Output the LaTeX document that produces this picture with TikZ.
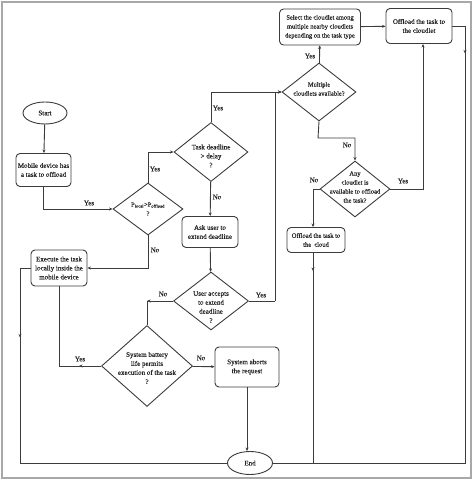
\documentclass[tikz,border=0pt]{standalone}
\usepackage{fontspec}
\setmainfont{Liberation Serif}[FakeBold=0.6]
\usetikzlibrary{shapes.geometric,arrows.meta,decorations.markings}
\definecolor{ln}{HTML}{3C3C3C}
\definecolor{tx}{HTML}{262626}
\definecolor{fr}{HTML}{A8A8A8}
\begin{document}
\begin{tikzpicture}[x=1pt,y=-1pt,
 font=\fontsize{7}{9}\selectfont,
 line/.style={draw=ln, line width=0.9pt},
 arr/.style={line,-{Stealth[length=3.5pt,width=3pt]}},
 box/.style={draw=ln, line width=0.9pt, rounded corners=4pt, align=center, inner sep=1pt, text=tx},
 term/.style={draw=ln, line width=0.9pt, ellipse, inner sep=0pt, text=tx},
 dia/.style={draw=ln, line width=0.9pt, diamond, inner sep=0pt},
 txt/.style={align=center, inner sep=0pt, text=tx},
 lab/.style={inner sep=0pt, text=tx},
 midarr/.style={postaction={decorate}, decoration={markings, mark=at position #1 with {\arrow{Stealth[length=3.5pt,width=3pt]}}}}
]
\useasboundingbox (0,0) rectangle (474,481);
\draw[fr, line width=1.6pt] (2,2) rectangle (471,478);

% nodes
\node[term, minimum width=44pt, minimum height=22pt] (start) at (45,113) {Start};
\node[box, minimum width=55pt, minimum height=33pt] (mobile) at (43.5,170) {Mobile device has\\a task to offload};
\node[dia, minimum width=70pt, minimum height=52pt,
  label={[txt,font=\fontsize{6.5}{9}\selectfont]center:{P\textsubscript{local}>P\textsubscript{offload}\\?}}] (p) at (148,209) {};
\node[dia, minimum width=74pt, minimum height=59pt,
  label={[txt,yshift=-4pt]center:{Task deadline\\> delay\\?}}] (task) at (211,152) {};
\node[box, minimum width=56pt, minimum height=31pt] (ask) at (210,232) {Ask user to\\extend deadline};
\node[dia, minimum width=75pt, minimum height=58pt,
  label={[txt,yshift=-6pt]center:{User accepts\\to extend\\deadline\\?}}] (user) at (211,301) {};
\node[dia, minimum width=91pt, minimum height=81pt,
  label={[txt,yshift=-2pt]center:{System battery\\life permits\\execution of the task\\?}}] (battery) at (147,366) {};
\node[box, minimum width=56pt, minimum height=36pt] (execute) at (59,268) {Execute the task\\locally inside the\\mobile device};
\node[box, minimum width=64pt, minimum height=40pt] (aborts) at (247,367) {System aborts\\the request};
\node[term, minimum width=45pt, minimum height=23pt] (endn) at (250,463) {End};
\node[dia, minimum width=74pt, minimum height=58pt,
  label={[txt,yshift=3pt,font=\fontsize{6.5}{9}\selectfont]center:{Multiple\\cloudlets available?}}] (multi) at (319,92) {};
\node[box, minimum width=81pt, minimum height=36pt, font=\fontsize{6.5}{9}\selectfont] (select) at (320,27) {Select the cloudlet among\\multiple nearby cloudlets\\depending on the task type};
\node[box, minimum width=66pt, minimum height=35pt] (offcl) at (419,26) {Offload the task to\\the cloudlet};
\node[dia, minimum width=70pt, minimum height=56pt,
  label={[txt,yshift=2pt,font=\fontsize{6.5}{9}\selectfont]center:{Any\\cloudlet is\\available to offload\\the task?}}] (any) at (355,189) {};
\node[box, minimum width=58pt, minimum height=25pt, font=\fontsize{6.5}{9}\selectfont] (cloud) at (316,240) {Offload the task to\\the\ \ cloud};

% junction coordinates
\coordinate (j1) at (275,301);
\coordinate (c1) at (147,301);
\coordinate (lb) at (20,463);
\coordinate (rb) at (465,463);
\coordinate (cb) at (313,463);

% connectors
\draw[arr] (start) -- (mobile);
\draw[arr] (mobile.south) |- (p.west);
\draw[arr] (p.north) |- (task.west);
\draw[arr] (task.north) |- (multi.west);
\draw[arr] (task) -- (ask);
\draw[arr] (ask) -- (user);
\draw[line] (user.east) -- (j1);
\draw[arr] (j1) |- (multi.west);
\draw[arr] (user.west) -- (c1);
\draw[line] (c1) -- (battery.north);
\draw[arr] (p.south) |- (execute.east);
\draw[line, midarr=22pt] (battery.west) -| (execute.south);
\draw[arr] (battery) -- (aborts);
\draw[arr] (aborts.south) -- (aborts.south |- endn.north);
\draw[line, midarr=80pt] (execute.west) -| (lb) -- (endn.west);
\draw[line, midarr=40pt] (offcl.east) -| (rb) -- (endn.east);
\draw[line, midarr=18pt] ([xshift=-3pt]cloud.south) -- (cb);
\draw[arr] (multi) -- (select);
\draw[arr] (select) -- (offcl);
\draw[arr] (multi.south) -- (318,138) -| (any.north);
\draw[arr] (any.east) -| ([xshift=4pt]offcl.south);
\draw[arr] (any.west) -| ([xshift=-3pt]cloud.north);

% labels
\node[lab] (l1) at (89,203) {Yes};
\node[lab] (l2) at (155,169) {Yes};
\node[lab] (l3) at (218,108) {Yes};
\node[lab] (l4) at (217,197) {No};
\node[lab] (l5) at (261,295) {Yes};
\node[lab] (l6) at (163,294) {No};
\node[lab] (l7) at (155,250) {No};
\node[lab] (l8) at (80,359) {Yes};
\node[lab] (l9) at (201,358) {No};
\node[lab] (l10) at (310,56) {Yes};
\node[lab] (l11) at (347,145) {No};
\node[lab] (l12) at (403,181) {Yes};
\node[lab] (l13) at (314,180) {No};
\end{tikzpicture}
\end{document}
